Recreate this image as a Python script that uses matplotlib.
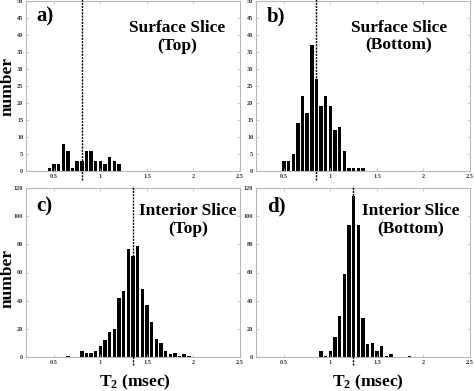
import matplotlib
matplotlib.use("Agg")
import matplotlib.pyplot as plt
import matplotlib.transforms as mtransforms

plt.rcParams['font.family'] = ['Liberation Serif', 'DejaVu Serif']
plt.rcParams['mathtext.fontset'] = 'custom'
plt.rcParams['mathtext.rm'] = 'Liberation Serif:bold'
plt.rcParams['mathtext.bf'] = 'Liberation Serif:bold'
plt.rcParams['mathtext.it'] = 'Liberation Serif:bold'

# ---- data ----
a_x = [0.45, 0.50, 0.55, 0.60, 0.65, 0.70, 0.75, 0.80, 0.85, 0.90, 0.95, 1.00, 1.05, 1.10, 1.15, 1.20]
a_n = [1, 2, 2, 8, 6, 1, 3, 3, 6, 6, 3, 3, 2, 4, 3, 2]
a_mean = 0.80

b_x = [0.50, 0.55, 0.60, 0.65, 0.70, 0.75, 0.80, 0.85, 0.90, 0.95, 1.00, 1.05, 1.10, 1.15, 1.20, 1.25, 1.30, 1.35]
b_n = [3, 3, 5, 14, 22, 17, 37, 27, 19, 22, 19, 12, 13, 6, 1, 1, 1, 1]
b_mean = 0.84

c_x = [0.65, 0.80, 0.85, 0.90, 0.95, 1.00, 1.05, 1.10, 1.15, 1.20, 1.25, 1.30, 1.35, 1.40,
       1.45, 1.50, 1.55, 1.60, 1.65, 1.70, 1.75, 1.80, 1.85, 1.90, 1.95]
c_n = [1, 4, 3, 3, 4, 8, 12, 18, 20, 42, 47, 77, 72, 79, 48, 37, 25, 13, 10, 4, 2, 3, 1, 2, 1]
c_mean = 1.35

d_x = [0.90, 0.95, 1.00, 1.05, 1.10, 1.15, 1.20, 1.25, 1.30, 1.35, 1.40, 1.45, 1.50, 1.55, 1.60, 1.65, 1.85]
d_n = [4, 1, 4, 14, 29, 59, 94, 114, 94, 28, 9, 10, 4, 8, 1, 2, 1]
d_mean = 1.24

panel_labels = ['a)', 'b)', 'c)', 'd)']
panel_titles = ['Surface Slice\n(Top)', 'Surface Slice\n(Bottom)',
                'Interior Slice\n(Top)', 'Interior Slice\n(Bottom)']
x_ticks = [0.5, 1.0, 1.5, 2.0, 2.5]
x_ticklabels = ['0.5', '1', '1.5', '2', '2.5']
y_ticks_top = [0, 5, 10, 15, 20, 25, 30, 35, 40, 45, 50]
y_ticks_bot = [0, 20, 40, 60, 80, 100, 120]

# ---- figure ----
W, H = 474, 391
fig = plt.figure(figsize=(W / 100, H / 100), dpi=100)

def rect(l, r, t, b):
    return [l / W, 1 - b / H, (r - l) / W, (b - t) / H]

axes_rects = [rect(26, 240, 1, 171), rect(256, 470, 1, 171),
              rect(26, 240, 188, 357), rect(256, 470, 188, 357)]
datasets = [(a_x, a_n, a_mean), (b_x, b_n, b_mean), (c_x, c_n, c_mean), (d_x, d_n, d_mean)]
label_pos = [(0.05, 0.91), (0.05, 0.91), (0.05, 0.89), (0.05, 0.89)]
title_pos = [(0.705, 0.79), (0.668, 0.79), (0.757, 0.81), (0.724, 0.81)]

spine_col = '#b8b8b8'
for i, (ax_r, (xs, ns, mu)) in enumerate(zip(axes_rects, datasets)):
    ax = fig.add_axes(ax_r)
    ax.bar(xs, ns, width=0.036, color='black', edgecolor='none')
    ax.set_xlim(0.2, 2.5)
    if i < 2:
        ax.set_ylim(0, 50)
        ax.set_yticks(y_ticks_top)
        ax.set_yticklabels([str(v) for v in y_ticks_top])
    else:
        ax.set_ylim(0, 120)
        ax.set_yticks(y_ticks_bot)
        ax.set_yticklabels([str(v) for v in y_ticks_bot])
    ax.set_xticks(x_ticks)
    ax.set_xticklabels(x_ticklabels)
    for s in ax.spines.values():
        s.set_color(spine_col)
        s.set_linewidth(0.8)
    ax.tick_params(direction='in', length=2, width=0.5, color=spine_col,
                   top=True, right=True, labelsize=4.5, labelcolor='#333333', pad=2)
    for lab in ax.get_xticklabels() + ax.get_yticklabels():
        lab.set_fontweight('bold')
    trans = mtransforms.blended_transform_factory(ax.transData, ax.transAxes)
    ax.plot([mu, mu], [-0.05, 1.01], transform=trans, color='black',
            linestyle=(0, (1.5, 0.8)), linewidth=1.0, clip_on=False, zorder=5)
    ax.text(label_pos[i][0], label_pos[i][1], panel_labels[i], transform=ax.transAxes,
            fontsize=15, fontweight='bold', ha='left', va='center')
    ax.text(title_pos[i][0], title_pos[i][1], panel_titles[i], transform=ax.transAxes,
            fontsize=12.5, fontweight='bold', ha='center', va='center',
            multialignment='center', linespacing=1.15)

fig.text(8 / W, 1 - 87 / H, 'number', rotation=90, fontsize=12.5, fontweight='bold',
         ha='center', va='center')
fig.text(8 / W, 1 - 279 / H, 'number', rotation=90, fontsize=12.5, fontweight='bold',
         ha='center', va='center')
fig.text(135 / W, 1 - 382 / H, r'T$_{2}$ (msec)', fontsize=12.5, fontweight='bold',
         ha='center', va='center')
fig.text(368 / W, 1 - 382 / H, r'T$_{2}$ (msec)', fontsize=12.5, fontweight='bold',
         ha='center', va='center')

fig.savefig('out.png', dpi=100)
